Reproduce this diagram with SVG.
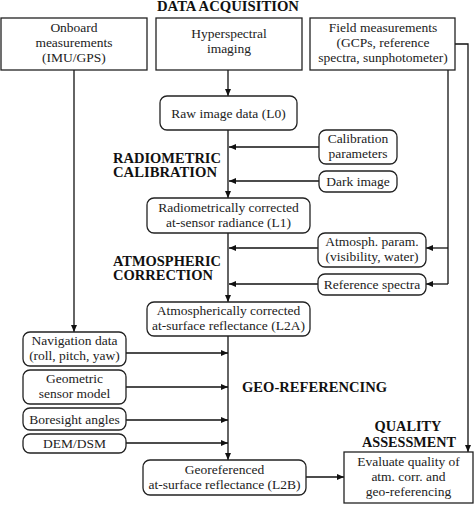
<svg xmlns="http://www.w3.org/2000/svg" width="474" height="505" viewBox="0 0 474 505">
<defs>
<marker id="ah" markerUnits="userSpaceOnUse" markerWidth="8" markerHeight="7" refX="7" refY="3" orient="auto">
<path d="M0,0 L7,3 L0,6 z" fill="#111"/>
</marker>
<style>
.box{fill:#fff;stroke:#222;stroke-width:1.3}
.t{font-family:"Liberation Serif","Times New Roman",serif;font-size:13.5px;fill:#222;text-anchor:middle}
.h{font-family:"Liberation Serif","Times New Roman",serif;font-size:14px;font-weight:bold;fill:#111}
.c{fill:none;stroke:#111;stroke-width:1.3}
.a{fill:none;stroke:#111;stroke-width:1.3;marker-end:url(#ah)}
</style>
</defs>
<rect width="474" height="505" fill="#fff"/>

<g id="labels">
<text class="h" x="228" y="11" text-anchor="middle" textLength="142" lengthAdjust="spacingAndGlyphs">DATA ACQUISITION</text>
<text class="h" x="113" y="163" textLength="108" lengthAdjust="spacingAndGlyphs">RADIOMETRIC</text>
<text class="h" x="113" y="177" textLength="104" lengthAdjust="spacingAndGlyphs">CALIBRATION</text>
<text class="h" x="113" y="266" textLength="108" lengthAdjust="spacingAndGlyphs">ATMOSPHERIC</text>
<text class="h" x="113" y="280" textLength="100" lengthAdjust="spacingAndGlyphs">CORRECTION</text>
<text class="h" x="242" y="392" textLength="145" lengthAdjust="spacingAndGlyphs">GEO-REFERENCING</text>
<text class="h" x="408" y="431" text-anchor="middle" textLength="67" lengthAdjust="spacingAndGlyphs">QUALITY</text>
<text class="h" x="409" y="447" text-anchor="middle" textLength="94" lengthAdjust="spacingAndGlyphs">ASSESSMENT</text>
</g>

<g id="connectors">
<path class="a" d="M228,70 V96"/>
<path class="a" d="M228,130 V198"/>
<path class="a" d="M319,147 H229"/>
<path class="a" d="M319,181 H229"/>
<path class="a" d="M228,233 V302"/>
<path class="a" d="M318,248 H229"/>
<path class="a" d="M318,284 H229"/>
<path class="c" d="M448,70 V284"/>
<path class="a" d="M448,248 H426"/>
<path class="a" d="M448,284 H426"/>
<path class="a" d="M455,44 H468 V452"/>
<path class="a" d="M74,70 V332"/>
<path class="a" d="M228,336 V460"/>
<path class="a" d="M126,353 H228"/>
<path class="a" d="M126,387 H228"/>
<path class="a" d="M126,420 H228"/>
<path class="a" d="M126,443 H228"/>
<path class="a" d="M306,477 H344"/>
</g>

<g id="onboard">
<rect class="box" x="1" y="18" width="146" height="52"/>
<text class="t" x="74" y="32">Onboard</text>
<text class="t" x="74" y="47">measurements</text>
<text class="t" x="74" y="62">(IMU/GPS)</text>
</g>
<g id="hyperspectral">
<rect class="box" x="156" y="18" width="146" height="52"/>
<text class="t" x="229" y="38">Hyperspectral</text>
<text class="t" x="229" y="53">imaging</text>
</g>
<g id="field">
<rect class="box" x="310" y="18" width="145" height="52"/>
<text class="t" x="383" y="32">Field measurements</text>
<text class="t" x="383" y="47">(GCPs, reference</text>
<text class="t" x="383" y="62">spectra, sunphotometer)</text>
</g>
<g id="raw">
<rect class="box" x="160" y="96" width="137" height="34" rx="7"/>
<text class="t" x="228.5" y="117.5">Raw image data (L0)</text>
</g>
<g id="calibration">
<rect class="box" x="319" y="130" width="78" height="34" rx="7"/>
<text class="t" x="358" y="143">Calibration</text>
<text class="t" x="358" y="158">parameters</text>
</g>
<g id="dark">
<rect class="box" x="319" y="171" width="78" height="21" rx="7"/>
<text class="t" x="358" y="186">Dark image</text>
</g>
<g id="l1">
<rect class="box" x="147" y="198" width="163" height="35" rx="7"/>
<text class="t" x="228.5" y="212">Radiometrically corrected</text>
<text class="t" x="228.5" y="227">at-sensor radiance (L1)</text>
</g>
<g id="atmosph">
<rect class="box" x="318" y="233" width="108" height="34" rx="7"/>
<text class="t" x="372" y="246">Atmosph. param.</text>
<text class="t" x="372" y="261">(visibility, water)</text>
</g>
<g id="refspectra">
<rect class="box" x="318" y="274" width="108" height="21" rx="7"/>
<text class="t" x="372" y="289">Reference spectra</text>
</g>
<g id="l2a">
<rect class="box" x="147" y="302" width="163" height="34" rx="7"/>
<text class="t" x="228.5" y="315">Atmospherically corrected</text>
<text class="t" x="228.5" y="330">at-surface reflectance (L2A)</text>
</g>
<g id="navigation">
<rect class="box" x="23" y="332" width="103" height="34" rx="7"/>
<text class="t" x="74.5" y="345">Navigation data</text>
<text class="t" x="74.5" y="360">(roll, pitch, yaw)</text>
</g>
<g id="geometric">
<rect class="box" x="23" y="370" width="103" height="34" rx="7"/>
<text class="t" x="74.5" y="383">Geometric</text>
<text class="t" x="74.5" y="398">sensor model</text>
</g>
<g id="boresight">
<rect class="box" x="23" y="408" width="103" height="22" rx="7"/>
<text class="t" x="74.5" y="423.5">Boresight angles</text>
</g>
<g id="dem">
<rect class="box" x="23" y="434" width="103" height="19" rx="7"/>
<text class="t" x="74.5" y="448">DEM/DSM</text>
</g>
<g id="l2b">
<rect class="box" x="143" y="460" width="163" height="35" rx="7"/>
<text class="t" x="224.5" y="473.5">Georeferenced</text>
<text class="t" x="224.5" y="488.5">at-surface reflectance (L2B)</text>
</g>
<g id="quality">
<rect class="box" x="344" y="452" width="129" height="51"/>
<text class="t" x="408.5" y="466">Evaluate quality of</text>
<text class="t" x="408.5" y="481">atm. corr. and</text>
<text class="t" x="408.5" y="496">geo-referencing</text>
</g>
</svg>
